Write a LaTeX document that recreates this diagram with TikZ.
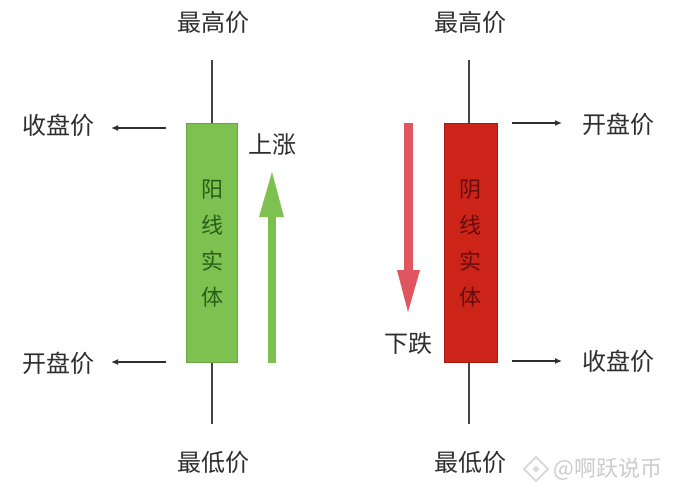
\documentclass[tikz,border=0pt]{standalone}
\usepackage{fontspec}
\setmainfont{Noto Sans CJK SC}
\usetikzlibrary{arrows.meta}
\definecolor{txt}{HTML}{2E2E2E}
\definecolor{gbody}{HTML}{7DC150}
\definecolor{gtext}{HTML}{2A5E18}
\definecolor{rbody}{HTML}{CC2418}
\definecolor{rborder}{HTML}{A81A10}
\definecolor{rtext}{HTML}{650D0D}
\definecolor{rarrow}{HTML}{E0565E}
\definecolor{wick}{HTML}{444444}
\tikzset{
  lbl/.style={font=\fontsize{24}{26}\selectfont, text=txt, inner sep=0pt},
  bodytxt/.style={font=\fontsize{22}{36}\selectfont, align=center, inner sep=0pt},
  wickline/.style={draw=wick, line width=1.5pt},
  ptr/.style={draw=txt, line width=1.3pt, -{Latex[length=7pt,width=6pt]}},
}
\begin{document}
\begin{tikzpicture}[x=1pt,y=-1pt]
\useasboundingbox[fill=white] (0,0) rectangle (681,499);
% ---------- green candle ----------
\coordinate (gtop) at (212,60);
\coordinate (gbot) at (212,424);
\draw[wickline] (gtop) -- (gbot);
\node[fill=gbody, draw=gbody!85!black, line width=0.6pt, minimum width=51pt, minimum height=239pt, inner sep=0pt] (gb) at (212,242.5) {};
\node[bodytxt, text=gtext] (gbt) at (212,244) {阳\\线\\实\\体};
\node[lbl] (ghigh) at (213,22) {最高价};
\node[lbl] (glow) at (213,462) {最低价};
\node[lbl] (gclose) at (59,125) {收盘价};
\node[lbl] (gopen) at (59,363) {开盘价};
\coordinate (gc1) at (166,128);
\coordinate (gc2) at (111,128);
\coordinate (go1) at (166,362);
\coordinate (go2) at (111,362);
\draw[ptr] (gc1) -- (gc2);
\draw[ptr] (go1) -- (go2);
% rise arrow
\coordinate (gtip) at (272,172);
\fill[gbody] (268,363) rectangle (276,215);
\fill[gbody] (259,217) -- (gtip) -- (284,217) -- cycle;
\node[lbl] (up) at (272,145) {上涨};
% ---------- red candle ----------
\coordinate (rtop) at (469,60);
\coordinate (rbot) at (469,424);
\draw[wickline] (rtop) -- (rbot);
\node[fill=rbody, draw=rborder, line width=0.8pt, minimum width=53pt, minimum height=239pt, inner sep=0pt] (rb) at (470.5,242.5) {};
\node[bodytxt, text=rtext] (rbt) at (470.5,244) {阴\\线\\实\\体};
\node[lbl] (rhigh) at (470,22) {最高价};
\node[lbl] (rlow) at (470,462) {最低价};
\node[lbl] (ropen) at (618,124) {开盘价};
\node[lbl] (rclose) at (618,361) {收盘价};
\coordinate (ro1) at (512,123);
\coordinate (ro2) at (562,123);
\coordinate (rc1) at (512,361);
\coordinate (rc2) at (562,361);
\draw[ptr] (ro1) -- (ro2);
\draw[ptr] (rc1) -- (rc2);
% fall arrow
\coordinate (rtip) at (408,312);
\fill[rarrow] (404,123) rectangle (413,272);
\fill[rarrow] (397,270) -- (rtip) -- (420,270) -- cycle;
\node[lbl] (down) at (408,343) {下跌};
% ---------- watermark ----------
\node[draw=gray!28, line width=2pt, rotate=45, minimum size=17pt, inner sep=0pt] (logo) at (536,469) {};
\node[fill=gray!28, rotate=45, minimum size=5pt, inner sep=0pt] (logoc) at (536,469) {};
\node[font=\fontsize{22}{24}\selectfont, text=gray!40, inner sep=0pt, anchor=west] (wm) at (553,469) {@啊跃说币};
\end{tikzpicture}
\end{document}
